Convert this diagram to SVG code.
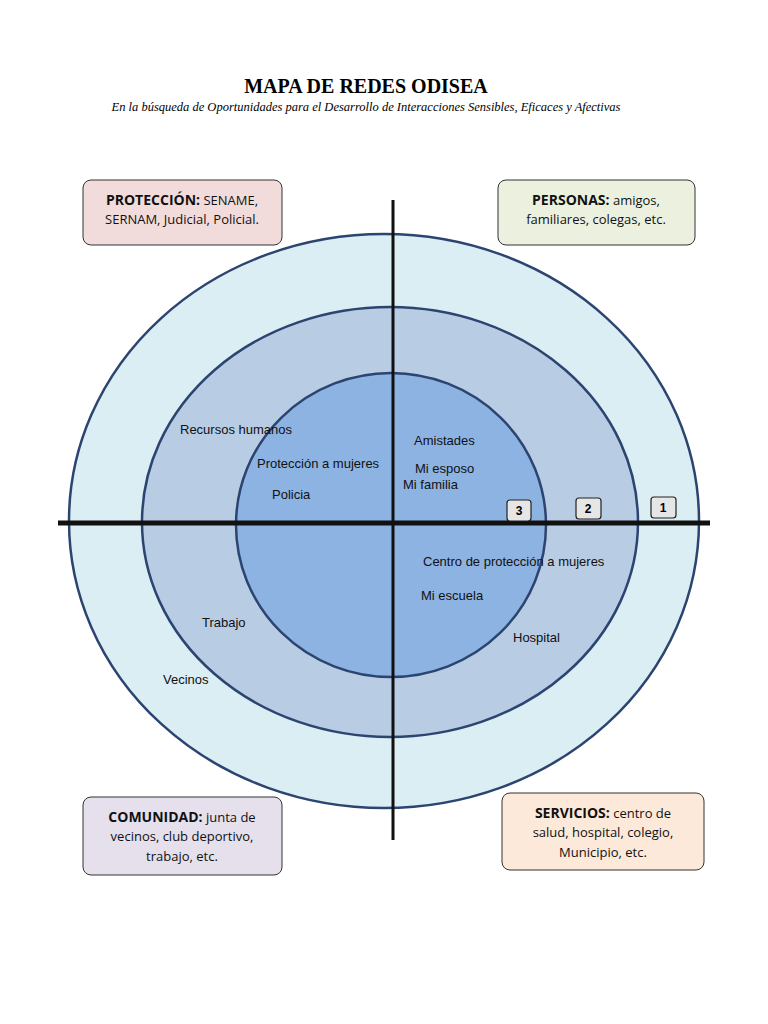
<svg xmlns="http://www.w3.org/2000/svg" width="768" height="1024" viewBox="0 0 768 1024">
<style>
.ring{stroke:#2c4470;stroke-width:2.5}
.lbl{font-family:"Liberation Sans",Arial,sans-serif;font-size:13px;fill:#111}
.box{stroke:#333;stroke-width:1}
.bt{font-family:"Open Sans","Liberation Sans",sans-serif;font-size:13px;fill:#111;text-anchor:middle}
.bt tspan.b{font-weight:bold;font-size:14px}
.num{fill:#e6e6e6;stroke:#222;stroke-width:1.2}
.nt{font-family:"Liberation Sans",Arial,sans-serif;font-size:12px;font-weight:bold;text-anchor:middle}
</style>
<rect width="768" height="1024" fill="#fff"/>
<text x="366" y="93" text-anchor="middle" font-family="Liberation Serif,serif" font-size="20" font-weight="bold">MAPA DE REDES ODISEA</text>
<text x="366" y="111" text-anchor="middle" font-family="Liberation Serif,serif" font-size="12.5" font-style="italic">En la búsqueda de Oportunidades para el Desarrollo de Interacciones Sensibles, Eficaces y Afectivas</text>
<g id="rings">
<ellipse id="outer" class="ring" cx="384" cy="521" rx="315" ry="287" fill="#daeef3"/>
<ellipse id="middle" class="ring" cx="390" cy="522" rx="248" ry="215" fill="#b8cce4"/>
<ellipse id="inner" class="ring" cx="391" cy="525" rx="155" ry="152" fill="#8db3e2"/>
</g>
<g id="connectors">
<line x1="58" y1="523" x2="710" y2="523" stroke="#111" stroke-width="5"/>
<line x1="393" y1="200" x2="393" y2="840" stroke="#111" stroke-width="3"/>
</g>
<g id="labels">
<text class="lbl" x="180" y="434">Recursos humanos</text>
<text class="lbl" x="257" y="468">Protección a mujeres</text>
<text class="lbl" x="272" y="499">Policia</text>
<text class="lbl" x="414" y="445">Amistades</text>
<text class="lbl" x="415" y="473">Mi esposo</text>
<text class="lbl" x="403" y="489">Mi familia</text>
<text class="lbl" x="423" y="566">Centro de protección a mujeres</text>
<text class="lbl" x="421" y="600">Mi escuela</text>
<text class="lbl" x="513" y="642">Hospital</text>
<text class="lbl" x="202" y="627">Trabajo</text>
<text class="lbl" x="163" y="684">Vecinos</text>
</g>
<g id="n3"><rect class="num" x="507" y="500" width="24" height="21" rx="3"/><text class="nt" x="519" y="515">3</text></g>
<g id="n2"><rect class="num" x="576" y="498" width="25" height="21" rx="3"/><text class="nt" x="588" y="513">2</text></g>
<g id="n1"><rect class="num" x="651" y="497" width="25" height="21" rx="3"/><text class="nt" x="663" y="512">1</text></g>
<g id="proteccion"><rect class="box" x="83" y="180" width="199" height="65" rx="8" fill="#f2dcdb"/>
<text class="bt" x="182" y="205"><tspan class="b">PROTECCIÓN:</tspan> SENAME,</text><text class="bt" x="182" y="224">SERNAM, Judicial, Policial.</text></g>
<g id="personas"><rect class="box" x="498" y="180" width="197" height="65" rx="8" fill="#ebf1de"/>
<text class="bt" x="596" y="205"><tspan class="b">PERSONAS:</tspan> amigos,</text><text class="bt" x="596" y="224">familiares, colegas, etc.</text></g>
<g id="comunidad"><rect class="box" x="83" y="797" width="199" height="78" rx="8" fill="#e5e0ec"/>
<text class="bt" x="182" y="822"><tspan class="b">COMUNIDAD:</tspan> junta de</text><text class="bt" x="182" y="841">vecinos, club deportivo,</text><text class="bt" x="182" y="861">trabajo, etc.</text></g>
<g id="servicios"><rect class="box" x="502" y="793" width="202" height="77" rx="8" fill="#fde9d9"/>
<text class="bt" x="603" y="818"><tspan class="b">SERVICIOS:</tspan> centro de</text><text class="bt" x="603" y="837">salud, hospital, colegio,</text><text class="bt" x="603" y="857">Municipio, etc.</text></g>
</svg>
